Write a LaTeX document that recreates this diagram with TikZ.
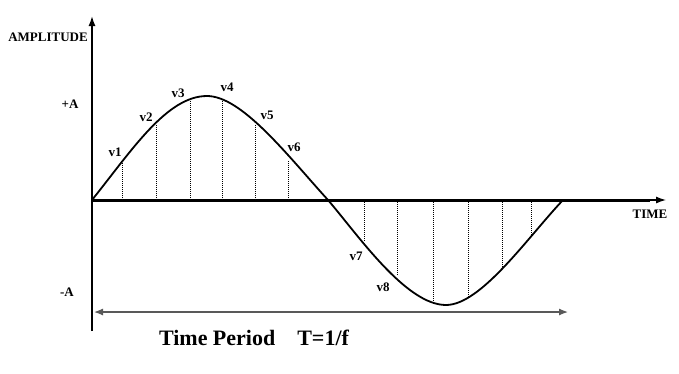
\documentclass[tikz,border=0pt]{standalone}
\usepackage{fontspec}
\setmainfont{Liberation Serif}
\usetikzlibrary{arrows.meta}
\tikzset{
  lbl/.style={font=\bfseries\fontsize{13}{13}\selectfont, inner sep=1pt},
  axis/.style={line width=3pt},
  drop/.style={densely dotted, line width=1pt},
  wave/.style={line width=1.8pt},
}
\begin{document}
\begin{tikzpicture}[x=1pt,y=-1pt]
\useasboundingbox (0,0) rectangle (679,373);

\coordinate (orig) at (92,200);
\coordinate (ytop) at (92,16);
\coordinate (ybot) at (92,331);
\coordinate (xend) at (666,200);
\coordinate (peak) at (207,96);
\coordinate (zero) at (328,200);
\coordinate (trough) at (446,305);
\coordinate (wend) at (563,200);

\foreach \x/\y in {122/161,156/124,190/100,222/99,255/124,288/160,
                   364/241,397/275,433/301,468/298,502/267,531/235}
  \draw[drop] (\x,200) -- (\x,\y);

\draw[line width=1.6pt,-{Latex[length=10pt,width=7pt]}] (ybot) -- (ytop);
\draw[axis] (orig) -- (650,200);
\draw[-{Latex[length=10pt,width=7pt]},line width=1.2pt] (650,200) -- (xend);

\draw[wave] (orig) .. controls (132,150) and (167,96) .. (peak)
  .. controls (242,96) and (288,156) .. (zero)
  .. controls (358,235) and (406,305) .. (trough)
  .. controls (481,305) and (528,237) .. (wend);

\node[lbl] (amp) at (48,37) {AMPLITUDE};
\node[lbl] (time) at (650,214) {TIME};
\node[lbl] (pA) at (70,104) {+A};
\node[lbl] (mA) at (67,292) {-A};

\node[lbl] (v1) at (115,152) {v1};
\node[lbl] (v2) at (146,117) {v2};
\node[lbl] (v3) at (178,93) {v3};
\node[lbl] (v4) at (227,87) {v4};
\node[lbl] (v5) at (267,115) {v5};
\node[lbl] (v6) at (294,147) {v6};
\node[lbl] (v7) at (356,256) {v7};
\node[lbl] (v8) at (383,287) {v8};

\coordinate (tpL) at (94,312);
\coordinate (tpR) at (568,312);
\draw[gray!70!black,line width=1.2pt,{Latex[length=9pt,width=7pt]}-{Latex[length=9pt,width=7pt]}] (tpL) -- (tpR);
\node[font=\bfseries\fontsize{22}{22}\selectfont] (tper) at (254,338) {Time Period\hspace{1em}T=1/f};
\end{tikzpicture}
\end{document}
